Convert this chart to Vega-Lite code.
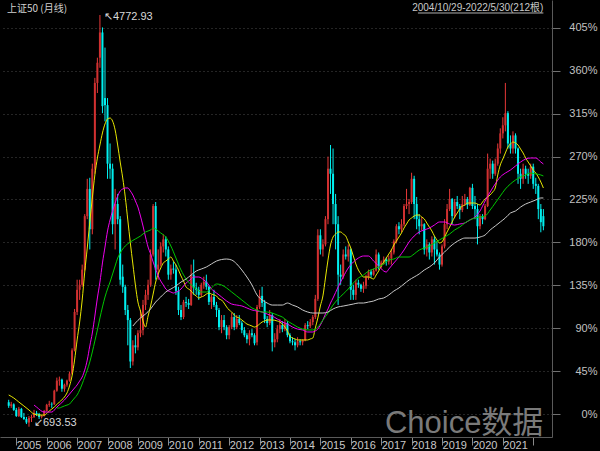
{
"$schema":"https://vega.github.io/schema/vega-lite/v6.json",
"width":552,"height":437,
"autosize":{"type":"none"},
"padding":{"left":0,"top":0,"right":48,"bottom":14},
"background":"#000000",
"config":{"view":{"stroke":null},"font":"Liberation Sans",
 "axisX":{"grid":false,"domainColor":"#5a5a5a","tickColor":"#8a8a8a","tickSize":8,"labelColor":"#c8c8c8","labelFontSize":11,"labelAlign":"left","labelBaseline":"top","labelPadding":-6,"labelDx":2,"labelOverlap":false,"labelFlush":false,"title":null},
 "axisY":{"grid":true,"gridDash":[1,3],"gridColor":"#4a4a4a","domainColor":"#5a5a5a","tickColor":"#707070","tickSize":8,"labelAlign":"right","labelPadding":37,"labelColor":"#c0c0c0","labelFontSize":11,"labelOverlap":false,"labelFlush":false,"title":null}
},
"datasets":{
"k":[
{"m":"2004-10","i":0,"o":935,"h":960,"l":880,"c":900},
{"m":"2004-11","i":1,"o":900,"h":940,"l":880,"c":915},
{"m":"2004-12","i":2,"o":915,"h":925,"l":850,"c":860},
{"m":"2005-01","i":3,"o":860,"h":880,"l":790,"c":800},
{"m":"2005-02","i":4,"o":800,"h":890,"l":790,"c":870},
{"m":"2005-03","i":5,"o":870,"h":880,"l":780,"c":790},
{"m":"2005-04","i":6,"o":790,"h":830,"l":760,"c":770},
{"m":"2005-05","i":7,"o":770,"h":790,"l":720,"c":735},
{"m":"2005-06","i":8,"o":735,"h":800,"l":693.53,"c":780},
{"m":"2005-07","i":9,"o":780,"h":810,"l":740,"c":790},
{"m":"2005-08","i":10,"o":790,"h":860,"l":780,"c":830},
{"m":"2005-09","i":11,"o":830,"h":850,"l":800,"c":820},
{"m":"2005-10","i":12,"o":820,"h":830,"l":770,"c":790},
{"m":"2005-11","i":13,"o":790,"h":810,"l":775,"c":800},
{"m":"2005-12","i":14,"o":800,"h":860,"l":795,"c":850},
{"m":"2006-01","i":15,"o":850,"h":920,"l":845,"c":910},
{"m":"2006-02","i":16,"o":910,"h":950,"l":890,"c":920},
{"m":"2006-03","i":17,"o":920,"h":935,"l":880,"c":915},
{"m":"2006-04","i":18,"o":915,"h":1060,"l":910,"c":1050},
{"m":"2006-05","i":19,"o":1050,"h":1180,"l":1040,"c":1150},
{"m":"2006-06","i":20,"o":1150,"h":1190,"l":1100,"c":1160},
{"m":"2006-07","i":21,"o":1160,"h":1170,"l":1040,"c":1070},
{"m":"2006-08","i":22,"o":1070,"h":1120,"l":1040,"c":1110},
{"m":"2006-09","i":23,"o":1110,"h":1160,"l":1090,"c":1150},
{"m":"2006-10","i":24,"o":1150,"h":1240,"l":1140,"c":1220},
{"m":"2006-11","i":25,"o":1220,"h":1470,"l":1210,"c":1450},
{"m":"2006-12","i":26,"o":1450,"h":1860,"l":1440,"c":1830},
{"m":"2007-01","i":27,"o":1830,"h":2150,"l":1800,"c":2050},
{"m":"2007-02","i":28,"o":2050,"h":2150,"l":1950,"c":2100},
{"m":"2007-03","i":29,"o":2100,"h":2300,"l":2080,"c":2250},
{"m":"2007-04","i":30,"o":2250,"h":2800,"l":2240,"c":2780},
{"m":"2007-05","i":31,"o":2780,"h":3150,"l":2750,"c":3050},
{"m":"2007-06","i":32,"o":3050,"h":3160,"l":2450,"c":2650},
{"m":"2007-07","i":33,"o":2650,"h":3300,"l":2600,"c":3250},
{"m":"2007-08","i":34,"o":3250,"h":4150,"l":3200,"c":4100},
{"m":"2007-09","i":35,"o":4100,"h":4350,"l":4000,"c":4300},
{"m":"2007-10","i":36,"o":4350,"h":4772.93,"l":4250,"c":4600},
{"m":"2007-11","i":37,"o":4600,"h":4650,"l":3800,"c":3870},
{"m":"2007-12","i":38,"o":3950,"h":4450,"l":3720,"c":3880},
{"m":"2008-01","i":39,"o":3880,"h":3950,"l":3150,"c":3300},
{"m":"2008-02","i":40,"o":3300,"h":3500,"l":3150,"c":3250},
{"m":"2008-03","i":41,"o":3250,"h":3300,"l":2600,"c":2700},
{"m":"2008-04","i":42,"o":2700,"h":3050,"l":2450,"c":2900},
{"m":"2008-05","i":43,"o":2900,"h":3000,"l":2700,"c":2750},
{"m":"2008-06","i":44,"o":2750,"h":2780,"l":2100,"c":2150},
{"m":"2008-07","i":45,"o":2180,"h":2300,"l":2020,"c":2080},
{"m":"2008-08","i":46,"o":2080,"h":2100,"l":1800,"c":1850},
{"m":"2008-09","i":47,"o":1850,"h":1900,"l":1500,"c":1750},
{"m":"2008-10","i":48,"o":1750,"h":1770,"l":1275,"c":1340},
{"m":"2008-11","i":49,"o":1340,"h":1550,"l":1300,"c":1500},
{"m":"2008-12","i":50,"o":1500,"h":1600,"l":1420,"c":1480},
{"m":"2009-01","i":51,"o":1480,"h":1650,"l":1450,"c":1620},
{"m":"2009-02","i":52,"o":1620,"h":1850,"l":1580,"c":1650},
{"m":"2009-03","i":53,"o":1650,"h":1950,"l":1600,"c":1900},
{"m":"2009-04","i":54,"o":1900,"h":2050,"l":1850,"c":2000},
{"m":"2009-05","i":55,"o":2000,"h":2150,"l":1950,"c":2100},
{"m":"2009-06","i":56,"o":2100,"h":2450,"l":2080,"c":2400},
{"m":"2009-07","i":57,"o":2400,"h":2900,"l":2380,"c":2880},
{"m":"2009-08","i":58,"o":2880,"h":2920,"l":2150,"c":2250},
{"m":"2009-09","i":59,"o":2250,"h":2450,"l":2150,"c":2300},
{"m":"2009-10","i":60,"o":2300,"h":2520,"l":2280,"c":2480},
{"m":"2009-11","i":61,"o":2480,"h":2600,"l":2420,"c":2550},
{"m":"2009-12","i":62,"o":2550,"h":2580,"l":2380,"c":2450},
{"m":"2010-01","i":63,"o":2450,"h":2480,"l":2150,"c":2200},
{"m":"2010-02","i":64,"o":2200,"h":2300,"l":2150,"c":2260},
{"m":"2010-03","i":65,"o":2260,"h":2330,"l":2210,"c":2250},
{"m":"2010-04","i":66,"o":2250,"h":2300,"l":2000,"c":2040},
{"m":"2010-05","i":67,"o":2040,"h":2080,"l":1800,"c":1850},
{"m":"2010-06","i":68,"o":1850,"h":1900,"l":1750,"c":1780},
{"m":"2010-07","i":69,"o":1780,"h":1950,"l":1760,"c":1930},
{"m":"2010-08","i":70,"o":1930,"h":1980,"l":1880,"c":1920},
{"m":"2010-09","i":71,"o":1920,"h":1960,"l":1860,"c":1900},
{"m":"2010-10","i":72,"o":1900,"h":2300,"l":1890,"c":2200},
{"m":"2010-11","i":73,"o":2200,"h":2350,"l":2000,"c":2070},
{"m":"2010-12","i":74,"o":2070,"h":2120,"l":2000,"c":2050},
{"m":"2011-01","i":75,"o":2050,"h":2080,"l":1950,"c":2000},
{"m":"2011-02","i":76,"o":2000,"h":2120,"l":1980,"c":2100},
{"m":"2011-03","i":77,"o":2100,"h":2180,"l":2060,"c":2130},
{"m":"2011-04","i":78,"o":2130,"h":2200,"l":2050,"c":2080},
{"m":"2011-05","i":79,"o":2080,"h":2090,"l":1900,"c":1930},
{"m":"2011-06","i":80,"o":1930,"h":2000,"l":1860,"c":1980},
{"m":"2011-07","i":81,"o":1980,"h":2050,"l":1880,"c":1900},
{"m":"2011-08","i":82,"o":1900,"h":1930,"l":1780,"c":1850},
{"m":"2011-09","i":83,"o":1850,"h":1870,"l":1650,"c":1680},
{"m":"2011-10","i":84,"o":1680,"h":1800,"l":1620,"c":1750},
{"m":"2011-11","i":85,"o":1750,"h":1800,"l":1650,"c":1680},
{"m":"2011-12","i":86,"o":1680,"h":1700,"l":1560,"c":1600},
{"m":"2012-01","i":87,"o":1600,"h":1700,"l":1560,"c":1680},
{"m":"2012-02","i":88,"o":1680,"h":1820,"l":1660,"c":1780},
{"m":"2012-03","i":89,"o":1780,"h":1820,"l":1650,"c":1680},
{"m":"2012-04","i":90,"o":1680,"h":1800,"l":1660,"c":1760},
{"m":"2012-05","i":91,"o":1760,"h":1800,"l":1700,"c":1720},
{"m":"2012-06","i":92,"o":1720,"h":1740,"l":1620,"c":1650},
{"m":"2012-07","i":93,"o":1650,"h":1680,"l":1580,"c":1600},
{"m":"2012-08","i":94,"o":1600,"h":1620,"l":1520,"c":1560},
{"m":"2012-09","i":95,"o":1560,"h":1650,"l":1500,"c":1620},
{"m":"2012-10","i":96,"o":1620,"h":1660,"l":1580,"c":1600},
{"m":"2012-11","i":97,"o":1600,"h":1620,"l":1500,"c":1520},
{"m":"2012-12","i":98,"o":1530,"h":1900,"l":1500,"c":1880},
{"m":"2013-01","i":99,"o":1880,"h":2050,"l":1860,"c":1990},
{"m":"2013-02","i":100,"o":1990,"h":2080,"l":1880,"c":1920},
{"m":"2013-03","i":101,"o":1920,"h":1950,"l":1720,"c":1760},
{"m":"2013-04","i":102,"o":1760,"h":1790,"l":1680,"c":1720},
{"m":"2013-05","i":103,"o":1720,"h":1850,"l":1700,"c":1800},
{"m":"2013-06","i":104,"o":1800,"h":1820,"l":1440,"c":1530},
{"m":"2013-07","i":105,"o":1530,"h":1620,"l":1480,"c":1560},
{"m":"2013-08","i":106,"o":1560,"h":1700,"l":1530,"c":1660},
{"m":"2013-09","i":107,"o":1660,"h":1760,"l":1620,"c":1700},
{"m":"2013-10","i":108,"o":1700,"h":1740,"l":1630,"c":1660},
{"m":"2013-11","i":109,"o":1660,"h":1760,"l":1640,"c":1720},
{"m":"2013-12","i":110,"o":1720,"h":1740,"l":1580,"c":1600},
{"m":"2014-01","i":111,"o":1600,"h":1620,"l":1520,"c":1540},
{"m":"2014-02","i":112,"o":1540,"h":1580,"l":1500,"c":1530},
{"m":"2014-03","i":113,"o":1530,"h":1560,"l":1450,"c":1500},
{"m":"2014-04","i":114,"o":1500,"h":1580,"l":1480,"c":1540},
{"m":"2014-05","i":115,"o":1540,"h":1560,"l":1500,"c":1530},
{"m":"2014-06","i":116,"o":1530,"h":1560,"l":1500,"c":1550},
{"m":"2014-07","i":117,"o":1550,"h":1720,"l":1540,"c":1700},
{"m":"2014-08","i":118,"o":1700,"h":1740,"l":1660,"c":1690},
{"m":"2014-09","i":119,"o":1690,"h":1760,"l":1670,"c":1730},
{"m":"2014-10","i":120,"o":1730,"h":1800,"l":1700,"c":1780},
{"m":"2014-11","i":121,"o":1780,"h":2000,"l":1760,"c":1960},
{"m":"2014-12","i":122,"o":1960,"h":2650,"l":1940,"c":2590},
{"m":"2015-01","i":123,"o":2590,"h":2650,"l":2400,"c":2450},
{"m":"2015-02","i":124,"o":2450,"h":2550,"l":2380,"c":2500},
{"m":"2015-03","i":125,"o":2500,"h":2780,"l":2480,"c":2750},
{"m":"2015-04","i":126,"o":2750,"h":3370,"l":2700,"c":3250},
{"m":"2015-05","i":127,"o":3250,"h":3485,"l":3000,"c":3200},
{"m":"2015-06","i":128,"o":3200,"h":3450,"l":2700,"c":2900},
{"m":"2015-07","i":129,"o":2900,"h":3000,"l":2450,"c":2700},
{"m":"2015-08","i":130,"o":2700,"h":2780,"l":1900,"c":2200},
{"m":"2015-09","i":131,"o":2200,"h":2300,"l":2100,"c":2180},
{"m":"2015-10","i":132,"o":2180,"h":2450,"l":2160,"c":2400},
{"m":"2015-11","i":133,"o":2400,"h":2480,"l":2350,"c":2380},
{"m":"2015-12","i":134,"o":2380,"h":2500,"l":2330,"c":2450},
{"m":"2016-01","i":135,"o":2450,"h":2460,"l":1950,"c":2050},
{"m":"2016-02","i":136,"o":2050,"h":2100,"l":1950,"c":2000},
{"m":"2016-03","i":137,"o":2000,"h":2150,"l":1950,"c":2120},
{"m":"2016-04","i":138,"o":2120,"h":2150,"l":2070,"c":2100},
{"m":"2016-05","i":139,"o":2100,"h":2110,"l":2030,"c":2060},
{"m":"2016-06","i":140,"o":2060,"h":2130,"l":2020,"c":2090},
{"m":"2016-07","i":141,"o":2090,"h":2200,"l":2060,"c":2170},
{"m":"2016-08","i":142,"o":2170,"h":2250,"l":2150,"c":2230},
{"m":"2016-09","i":143,"o":2230,"h":2250,"l":2170,"c":2200},
{"m":"2016-10","i":144,"o":2200,"h":2260,"l":2190,"c":2240},
{"m":"2016-11","i":145,"o":2240,"h":2450,"l":2230,"c":2400},
{"m":"2016-12","i":146,"o":2400,"h":2420,"l":2250,"c":2280},
{"m":"2017-01","i":147,"o":2280,"h":2340,"l":2260,"c":2320},
{"m":"2017-02","i":148,"o":2320,"h":2380,"l":2300,"c":2350},
{"m":"2017-03","i":149,"o":2350,"h":2370,"l":2290,"c":2330},
{"m":"2017-04","i":150,"o":2330,"h":2390,"l":2300,"c":2360},
{"m":"2017-05","i":151,"o":2360,"h":2450,"l":2300,"c":2420},
{"m":"2017-06","i":152,"o":2420,"h":2550,"l":2400,"c":2530},
{"m":"2017-07","i":153,"o":2530,"h":2700,"l":2510,"c":2680},
{"m":"2017-08","i":154,"o":2680,"h":2720,"l":2600,"c":2650},
{"m":"2017-09","i":155,"o":2650,"h":2750,"l":2620,"c":2700},
{"m":"2017-10","i":156,"o":2700,"h":2900,"l":2680,"c":2880},
{"m":"2017-11","i":157,"o":2880,"h":3050,"l":2850,"c":2900},
{"m":"2017-12","i":158,"o":2900,"h":2950,"l":2800,"c":2920},
{"m":"2018-01","i":159,"o":2920,"h":3210,"l":2900,"c":3150},
{"m":"2018-02","i":160,"o":3150,"h":3180,"l":2750,"c":2900},
{"m":"2018-03","i":161,"o":2900,"h":2970,"l":2650,"c":2750},
{"m":"2018-04","i":162,"o":2750,"h":2800,"l":2600,"c":2680},
{"m":"2018-05","i":163,"o":2680,"h":2770,"l":2640,"c":2700},
{"m":"2018-06","i":164,"o":2700,"h":2710,"l":2400,"c":2450},
{"m":"2018-07","i":165,"o":2450,"h":2550,"l":2380,"c":2500},
{"m":"2018-08","i":166,"o":2500,"h":2520,"l":2350,"c":2420},
{"m":"2018-09","i":167,"o":2420,"h":2580,"l":2380,"c":2550},
{"m":"2018-10","i":168,"o":2550,"h":2580,"l":2300,"c":2450},
{"m":"2018-11","i":169,"o":2450,"h":2530,"l":2380,"c":2400},
{"m":"2018-12","i":170,"o":2400,"h":2420,"l":2250,"c":2300},
{"m":"2019-01","i":171,"o":2300,"h":2500,"l":2280,"c":2480},
{"m":"2019-02","i":172,"o":2480,"h":2750,"l":2460,"c":2700},
{"m":"2019-03","i":173,"o":2700,"h":2900,"l":2650,"c":2850},
{"m":"2019-04","i":174,"o":2850,"h":3050,"l":2830,"c":2950},
{"m":"2019-05","i":175,"o":2950,"h":2960,"l":2700,"c":2780},
{"m":"2019-06","i":176,"o":2780,"h":2950,"l":2760,"c":2920},
{"m":"2019-07","i":177,"o":2920,"h":2980,"l":2850,"c":2880},
{"m":"2019-08","i":178,"o":2880,"h":2900,"l":2750,"c":2840},
{"m":"2019-09","i":179,"o":2840,"h":2980,"l":2820,"c":2900},
{"m":"2019-10","i":180,"o":2900,"h":3000,"l":2880,"c":2950},
{"m":"2019-11","i":181,"o":2950,"h":2970,"l":2850,"c":2890},
{"m":"2019-12","i":182,"o":2890,"h":3070,"l":2880,"c":3060},
{"m":"2020-01","i":183,"o":3060,"h":3100,"l":2850,"c":2880},
{"m":"2020-02","i":184,"o":2880,"h":2980,"l":2750,"c":2850},
{"m":"2020-03","i":185,"o":2850,"h":2900,"l":2500,"c":2680},
{"m":"2020-04","i":186,"o":2680,"h":2800,"l":2650,"c":2780},
{"m":"2020-05","i":187,"o":2780,"h":2800,"l":2700,"c":2750},
{"m":"2020-06","i":188,"o":2750,"h":2900,"l":2740,"c":2880},
{"m":"2020-07","i":189,"o":2880,"h":3400,"l":2870,"c":3250},
{"m":"2020-08","i":190,"o":3250,"h":3350,"l":3150,"c":3300},
{"m":"2020-09","i":191,"o":3300,"h":3330,"l":3150,"c":3200},
{"m":"2020-10","i":192,"o":3200,"h":3350,"l":3180,"c":3300},
{"m":"2020-11","i":193,"o":3300,"h":3500,"l":3280,"c":3450},
{"m":"2020-12","i":194,"o":3450,"h":3650,"l":3400,"c":3600},
{"m":"2021-01","i":195,"o":3600,"h":3760,"l":3550,"c":3680},
{"m":"2021-02","i":196,"o":3680,"h":4100,"l":3620,"c":3800},
{"m":"2021-03","i":197,"o":3800,"h":3820,"l":3450,"c":3500},
{"m":"2021-04","i":198,"o":3500,"h":3580,"l":3400,"c":3450},
{"m":"2021-05","i":199,"o":3450,"h":3620,"l":3400,"c":3580},
{"m":"2021-06","i":200,"o":3580,"h":3600,"l":3400,"c":3450},
{"m":"2021-07","i":201,"o":3450,"h":3460,"l":3100,"c":3200},
{"m":"2021-08","i":202,"o":3200,"h":3250,"l":3050,"c":3150},
{"m":"2021-09","i":203,"o":3150,"h":3300,"l":3100,"c":3250},
{"m":"2021-10","i":204,"o":3250,"h":3280,"l":3150,"c":3200},
{"m":"2021-11","i":205,"o":3200,"h":3250,"l":3100,"c":3180},
{"m":"2021-12","i":206,"o":3180,"h":3300,"l":3150,"c":3270},
{"m":"2022-01","i":207,"o":3270,"h":3300,"l":3050,"c":3100},
{"m":"2022-02","i":208,"o":3100,"h":3160,"l":3000,"c":3080},
{"m":"2022-03","i":209,"o":3080,"h":3100,"l":2750,"c":2850},
{"m":"2022-04","i":210,"o":2850,"h":2900,"l":2620,"c":2720},
{"m":"2022-05","i":211,"o":2780,"h":2850,"l":2640,"c":2680}
],
"ma":[
{"s":"y","i":0,"v":1008},{"s":"y","i":2,"v":978},{"s":"y","i":4,"v":938},{"s":"y","i":6,"v":899},{"s":"y","i":8,"v":859},{"s":"y","i":10,"v":819},{"s":"y","i":12,"v":809},{"s":"y","i":14,"v":809},{"s":"y","i":16,"v":849},{"s":"y","i":18,"v":889},{"s":"y","i":20,"v":938},{"s":"y","i":22,"v":988},{"s":"y","i":23,"v":1028},{"s":"y","i":24,"v":1097},{"s":"y","i":25,"v":1196},{"s":"y","i":26,"v":1354},{"s":"y","i":27,"v":1553},{"s":"y","i":28,"v":1731},{"s":"y","i":29,"v":1949},{"s":"y","i":30,"v":2226},{"s":"y","i":31,"v":2464},{"s":"y","i":32,"v":2722},{"s":"y","i":33,"v":2960},{"s":"y","i":34,"v":3188},{"s":"y","i":35,"v":3356},{"s":"y","i":36,"v":3485},{"s":"y","i":37,"v":3604},{"s":"y","i":38,"v":3693},{"s":"y","i":39,"v":3743},{"s":"y","i":40,"v":3752},{"s":"y","i":41,"v":3722},{"s":"y","i":42,"v":3634},{"s":"y","i":43,"v":3485},{"s":"y","i":44,"v":3316},{"s":"y","i":45,"v":3158},{"s":"y","i":46,"v":2970},{"s":"y","i":47,"v":2742},{"s":"y","i":48,"v":2514},{"s":"y","i":49,"v":2306},{"s":"y","i":50,"v":2097},{"s":"y","i":51,"v":1929},{"s":"y","i":52,"v":1840},{"s":"y","i":53,"v":1741},{"s":"y","i":54,"v":1681},{"s":"y","i":55,"v":1790},{"s":"y","i":56,"v":1889},{"s":"y","i":57,"v":2008},{"s":"y","i":58,"v":2127},{"s":"y","i":59,"v":2207},{"s":"y","i":60,"v":2266},{"s":"y","i":61,"v":2316},{"s":"y","i":62,"v":2335},{"s":"y","i":63,"v":2355},{"s":"y","i":64,"v":2375},{"s":"y","i":65,"v":2335},{"s":"y","i":66,"v":2296},{"s":"y","i":67,"v":2246},{"s":"y","i":68,"v":2187},{"s":"y","i":69,"v":2137},{"s":"y","i":70,"v":2078},{"s":"y","i":71,"v":2058},{"s":"y","i":72,"v":2038},{"s":"y","i":73,"v":2008},{"s":"y","i":74,"v":1989},{"s":"y","i":75,"v":1969},{"s":"y","i":76,"v":1979},{"s":"y","i":77,"v":1989},{"s":"y","i":78,"v":2008},{"s":"y","i":79,"v":2018},{"s":"y","i":80,"v":2008},{"s":"y","i":81,"v":1999},{"s":"y","i":82,"v":1989},{"s":"y","i":83,"v":1959},{"s":"y","i":84,"v":1949},{"s":"y","i":85,"v":1919},{"s":"y","i":86,"v":1880},{"s":"y","i":87,"v":1850},{"s":"y","i":88,"v":1830},{"s":"y","i":89,"v":1800},{"s":"y","i":90,"v":1780},{"s":"y","i":91,"v":1770},{"s":"y","i":92,"v":1751},{"s":"y","i":93,"v":1731},{"s":"y","i":94,"v":1711},{"s":"y","i":95,"v":1701},{"s":"y","i":96,"v":1691},{"s":"y","i":97,"v":1681},{"s":"y","i":98,"v":1691},{"s":"y","i":99,"v":1711},{"s":"y","i":100,"v":1731},{"s":"y","i":101,"v":1741},{"s":"y","i":102,"v":1751},{"s":"y","i":104,"v":1751},{"s":"y","i":106,"v":1741},{"s":"y","i":107,"v":1731},{"s":"y","i":108,"v":1711},{"s":"y","i":109,"v":1681},{"s":"y","i":110,"v":1642},{"s":"y","i":111,"v":1592},{"s":"y","i":112,"v":1572},{"s":"y","i":113,"v":1563},{"s":"y","i":114,"v":1553},{"s":"y","i":116,"v":1553},{"s":"y","i":118,"v":1553},{"s":"y","i":119,"v":1563},{"s":"y","i":120,"v":1572},{"s":"y","i":121,"v":1672},{"s":"y","i":122,"v":1771},{"s":"y","i":123,"v":1890},{"s":"y","i":124,"v":1989},{"s":"y","i":125,"v":2167},{"s":"y","i":126,"v":2345},{"s":"y","i":127,"v":2494},{"s":"y","i":128,"v":2573},{"s":"y","i":129,"v":2603},{"s":"y","i":130,"v":2623},{"s":"y","i":131,"v":2623},{"s":"y","i":132,"v":2603},{"s":"y","i":133,"v":2583},{"s":"y","i":134,"v":2524},{"s":"y","i":135,"v":2464},{"s":"y","i":136,"v":2385},{"s":"y","i":137,"v":2306},{"s":"y","i":138,"v":2246},{"s":"y","i":139,"v":2207},{"s":"y","i":140,"v":2177},{"s":"y","i":142,"v":2177},{"s":"y","i":143,"v":2167},{"s":"y","i":144,"v":2157},{"s":"y","i":145,"v":2197},{"s":"y","i":146,"v":2236},{"s":"y","i":147,"v":2286},{"s":"y","i":148,"v":2325},{"s":"y","i":149,"v":2365},{"s":"y","i":150,"v":2405},{"s":"y","i":151,"v":2444},{"s":"y","i":152,"v":2494},{"s":"y","i":153,"v":2534},{"s":"y","i":154,"v":2573},{"s":"y","i":155,"v":2613},{"s":"y","i":156,"v":2662},{"s":"y","i":157,"v":2702},{"s":"y","i":158,"v":2742},{"s":"y","i":159,"v":2762},{"s":"y","i":160,"v":2781},{"s":"y","i":161,"v":2791},{"s":"y","i":162,"v":2791},{"s":"y","i":163,"v":2771},{"s":"y","i":164,"v":2752},{"s":"y","i":165,"v":2712},{"s":"y","i":166,"v":2672},{"s":"y","i":167,"v":2633},{"s":"y","i":168,"v":2583},{"s":"y","i":169,"v":2544},{"s":"y","i":170,"v":2514},{"s":"y","i":171,"v":2524},{"s":"y","i":172,"v":2573},{"s":"y","i":173,"v":2623},{"s":"y","i":174,"v":2672},{"s":"y","i":175,"v":2722},{"s":"y","i":176,"v":2771},{"s":"y","i":177,"v":2811},{"s":"y","i":178,"v":2851},{"s":"y","i":179,"v":2880},{"s":"y","i":180,"v":2890},{"s":"y","i":181,"v":2910},{"s":"y","i":183,"v":2910},{"s":"y","i":184,"v":2910},{"s":"y","i":185,"v":2900},{"s":"y","i":186,"v":2890},{"s":"y","i":187,"v":2920},{"s":"y","i":188,"v":2950},{"s":"y","i":189,"v":2970},{"s":"y","i":190,"v":2990},{"s":"y","i":191,"v":3019},{"s":"y","i":192,"v":3059},{"s":"y","i":193,"v":3188},{"s":"y","i":194,"v":3287},{"s":"y","i":195,"v":3346},{"s":"y","i":196,"v":3406},{"s":"y","i":197,"v":3465},{"s":"y","i":198,"v":3495},{"s":"y","i":199,"v":3515},{"s":"y","i":200,"v":3505},{"s":"y","i":201,"v":3485},{"s":"y","i":202,"v":3445},{"s":"y","i":203,"v":3406},{"s":"y","i":204,"v":3356},{"s":"y","i":205,"v":3316},{"s":"y","i":206,"v":3277},{"s":"y","i":207,"v":3237},{"s":"y","i":208,"v":3207},{"s":"y","i":209,"v":3168},{"s":"y","i":210,"v":3118},{"s":"y","i":211,"v":3059},
{"s":"m","i":10,"v":908},{"s":"m","i":11,"v":888},{"s":"m","i":14,"v":839},{"s":"m","i":17,"v":839},{"s":"m","i":19,"v":888},{"s":"m","i":22,"v":958},{"s":"m","i":24,"v":1017},{"s":"m","i":25,"v":1047},{"s":"m","i":26,"v":1077},{"s":"m","i":27,"v":1107},{"s":"m","i":28,"v":1146},{"s":"m","i":29,"v":1186},{"s":"m","i":30,"v":1255},{"s":"m","i":31,"v":1354},{"s":"m","i":32,"v":1493},{"s":"m","i":33,"v":1622},{"s":"m","i":34,"v":1790},{"s":"m","i":35,"v":1969},{"s":"m","i":36,"v":2127},{"s":"m","i":37,"v":2316},{"s":"m","i":38,"v":2474},{"s":"m","i":39,"v":2633},{"s":"m","i":40,"v":2742},{"s":"m","i":41,"v":2831},{"s":"m","i":42,"v":2910},{"s":"m","i":43,"v":2980},{"s":"m","i":44,"v":3029},{"s":"m","i":45,"v":3049},{"s":"m","i":46,"v":3059},{"s":"m","i":47,"v":3059},{"s":"m","i":48,"v":3029},{"s":"m","i":49,"v":2989},{"s":"m","i":50,"v":2930},{"s":"m","i":51,"v":2870},{"s":"m","i":52,"v":2781},{"s":"m","i":53,"v":2682},{"s":"m","i":54,"v":2573},{"s":"m","i":55,"v":2474},{"s":"m","i":56,"v":2405},{"s":"m","i":57,"v":2326},{"s":"m","i":58,"v":2256},{"s":"m","i":59,"v":2187},{"s":"m","i":60,"v":2137},{"s":"m","i":61,"v":2098},{"s":"m","i":62,"v":2058},{"s":"m","i":63,"v":2038},{"s":"m","i":64,"v":2028},{"s":"m","i":65,"v":2018},{"s":"m","i":66,"v":2028},{"s":"m","i":67,"v":2038},{"s":"m","i":68,"v":2058},{"s":"m","i":69,"v":2088},{"s":"m","i":70,"v":2117},{"s":"m","i":71,"v":2137},{"s":"m","i":72,"v":2157},{"s":"m","i":73,"v":2177},{"s":"m","i":75,"v":2177},{"s":"m","i":76,"v":2167},{"s":"m","i":77,"v":2147},{"s":"m","i":78,"v":2127},{"s":"m","i":79,"v":2098},{"s":"m","i":80,"v":2058},{"s":"m","i":81,"v":2038},{"s":"m","i":82,"v":2018},{"s":"m","i":83,"v":1999},{"s":"m","i":84,"v":1979},{"s":"m","i":86,"v":1939},{"s":"m","i":88,"v":1909},{"s":"m","i":90,"v":1899},{"s":"m","i":92,"v":1890},{"s":"m","i":94,"v":1870},{"s":"m","i":96,"v":1850},{"s":"m","i":98,"v":1840},{"s":"m","i":100,"v":1830},{"s":"m","i":102,"v":1810},{"s":"m","i":104,"v":1790},{"s":"m","i":106,"v":1761},{"s":"m","i":108,"v":1731},{"s":"m","i":110,"v":1711},{"s":"m","i":112,"v":1681},{"s":"m","i":114,"v":1661},{"s":"m","i":116,"v":1652},{"s":"m","i":118,"v":1632},{"s":"m","i":120,"v":1632},{"s":"m","i":121,"v":1642},{"s":"m","i":122,"v":1661},{"s":"m","i":123,"v":1701},{"s":"m","i":124,"v":1751},{"s":"m","i":125,"v":1810},{"s":"m","i":126,"v":1860},{"s":"m","i":127,"v":1919},{"s":"m","i":128,"v":1969},{"s":"m","i":130,"v":2078},{"s":"m","i":132,"v":2177},{"s":"m","i":134,"v":2266},{"s":"m","i":136,"v":2325},{"s":"m","i":138,"v":2365},{"s":"m","i":140,"v":2385},{"s":"m","i":142,"v":2385},{"s":"m","i":144,"v":2335},{"s":"m","i":146,"v":2286},{"s":"m","i":148,"v":2236},{"s":"m","i":149,"v":2226},{"s":"m","i":150,"v":2256},{"s":"m","i":152,"v":2316},{"s":"m","i":154,"v":2375},{"s":"m","i":156,"v":2444},{"s":"m","i":158,"v":2524},{"s":"m","i":160,"v":2583},{"s":"m","i":162,"v":2623},{"s":"m","i":164,"v":2643},{"s":"m","i":166,"v":2662},{"s":"m","i":168,"v":2692},{"s":"m","i":170,"v":2722},{"s":"m","i":172,"v":2722},{"s":"m","i":174,"v":2702},{"s":"m","i":176,"v":2692},{"s":"m","i":178,"v":2702},{"s":"m","i":180,"v":2712},{"s":"m","i":182,"v":2742},{"s":"m","i":184,"v":2771},{"s":"m","i":186,"v":2831},{"s":"m","i":188,"v":2930},{"s":"m","i":190,"v":3019},{"s":"m","i":192,"v":3099},{"s":"m","i":194,"v":3168},{"s":"m","i":196,"v":3207},{"s":"m","i":198,"v":3237},{"s":"m","i":200,"v":3277},{"s":"m","i":202,"v":3316},{"s":"m","i":204,"v":3346},{"s":"m","i":206,"v":3356},{"s":"m","i":208,"v":3356},{"s":"m","i":210,"v":3316},{"s":"m","i":211,"v":3297},
{"s":"g","i":19,"v":879},{"s":"g","i":20,"v":879},{"s":"g","i":21,"v":889},{"s":"g","i":22,"v":899},{"s":"g","i":23,"v":908},{"s":"g","i":24,"v":918},{"s":"g","i":25,"v":948},{"s":"g","i":26,"v":978},{"s":"g","i":27,"v":1008},{"s":"g","i":28,"v":1057},{"s":"g","i":29,"v":1117},{"s":"g","i":30,"v":1186},{"s":"g","i":31,"v":1255},{"s":"g","i":32,"v":1335},{"s":"g","i":33,"v":1434},{"s":"g","i":34,"v":1543},{"s":"g","i":35,"v":1652},{"s":"g","i":36,"v":1771},{"s":"g","i":37,"v":1880},{"s":"g","i":38,"v":1979},{"s":"g","i":39,"v":2058},{"s":"g","i":40,"v":2127},{"s":"g","i":41,"v":2207},{"s":"g","i":42,"v":2286},{"s":"g","i":43,"v":2365},{"s":"g","i":44,"v":2415},{"s":"g","i":45,"v":2454},{"s":"g","i":46,"v":2484},{"s":"g","i":48,"v":2524},{"s":"g","i":50,"v":2554},{"s":"g","i":52,"v":2583},{"s":"g","i":54,"v":2623},{"s":"g","i":56,"v":2643},{"s":"g","i":57,"v":2662},{"s":"g","i":58,"v":2653},{"s":"g","i":59,"v":2633},{"s":"g","i":60,"v":2613},{"s":"g","i":62,"v":2573},{"s":"g","i":64,"v":2484},{"s":"g","i":66,"v":2365},{"s":"g","i":68,"v":2246},{"s":"g","i":70,"v":2157},{"s":"g","i":72,"v":2098},{"s":"g","i":74,"v":2058},{"s":"g","i":76,"v":2028},{"s":"g","i":78,"v":2028},{"s":"g","i":80,"v":2068},{"s":"g","i":82,"v":2108},{"s":"g","i":84,"v":2098},{"s":"g","i":86,"v":2068},{"s":"g","i":88,"v":2028},{"s":"g","i":90,"v":1989},{"s":"g","i":92,"v":1949},{"s":"g","i":94,"v":1909},{"s":"g","i":96,"v":1870},{"s":"g","i":98,"v":1850},{"s":"g","i":100,"v":1830},{"s":"g","i":102,"v":1830},{"s":"g","i":104,"v":1820},{"s":"g","i":106,"v":1800},{"s":"g","i":108,"v":1780},{"s":"g","i":110,"v":1741},{"s":"g","i":112,"v":1711},{"s":"g","i":114,"v":1681},{"s":"g","i":116,"v":1661},{"s":"g","i":118,"v":1652},{"s":"g","i":120,"v":1652},{"s":"g","i":122,"v":1681},{"s":"g","i":124,"v":1751},{"s":"g","i":126,"v":1820},{"s":"g","i":128,"v":1899},{"s":"g","i":130,"v":1959},{"s":"g","i":132,"v":2008},{"s":"g","i":134,"v":2058},{"s":"g","i":136,"v":2117},{"s":"g","i":138,"v":2167},{"s":"g","i":140,"v":2197},{"s":"g","i":142,"v":2236},{"s":"g","i":144,"v":2256},{"s":"g","i":146,"v":2276},{"s":"g","i":148,"v":2306},{"s":"g","i":150,"v":2345},{"s":"g","i":152,"v":2355},{"s":"g","i":154,"v":2375},{"s":"g","i":156,"v":2375},{"s":"g","i":158,"v":2375},{"s":"g","i":160,"v":2405},{"s":"g","i":162,"v":2444},{"s":"g","i":164,"v":2464},{"s":"g","i":166,"v":2484},{"s":"g","i":168,"v":2514},{"s":"g","i":170,"v":2544},{"s":"g","i":172,"v":2573},{"s":"g","i":174,"v":2603},{"s":"g","i":176,"v":2643},{"s":"g","i":178,"v":2672},{"s":"g","i":180,"v":2712},{"s":"g","i":182,"v":2742},{"s":"g","i":184,"v":2762},{"s":"g","i":186,"v":2771},{"s":"g","i":188,"v":2781},{"s":"g","i":190,"v":2841},{"s":"g","i":192,"v":2910},{"s":"g","i":194,"v":2980},{"s":"g","i":196,"v":3049},{"s":"g","i":198,"v":3099},{"s":"g","i":200,"v":3138},{"s":"g","i":202,"v":3168},{"s":"g","i":204,"v":3188},{"s":"g","i":206,"v":3207},{"s":"g","i":208,"v":3198},{"s":"g","i":210,"v":3188},{"s":"g","i":211,"v":3178},
{"s":"w","i":49,"v":1691},{"s":"w","i":50,"v":1721},{"s":"w","i":52,"v":1771},{"s":"w","i":54,"v":1810},{"s":"w","i":56,"v":1860},{"s":"w","i":58,"v":1929},{"s":"w","i":60,"v":1979},{"s":"w","i":62,"v":2028},{"s":"w","i":64,"v":2058},{"s":"w","i":66,"v":2088},{"s":"w","i":68,"v":2127},{"s":"w","i":70,"v":2157},{"s":"w","i":72,"v":2197},{"s":"w","i":74,"v":2236},{"s":"w","i":76,"v":2256},{"s":"w","i":78,"v":2276},{"s":"w","i":80,"v":2306},{"s":"w","i":82,"v":2335},{"s":"w","i":84,"v":2350},{"s":"w","i":86,"v":2355},{"s":"w","i":88,"v":2345},{"s":"w","i":90,"v":2306},{"s":"w","i":92,"v":2246},{"s":"w","i":94,"v":2177},{"s":"w","i":96,"v":2098},{"s":"w","i":98,"v":1999},{"s":"w","i":100,"v":1949},{"s":"w","i":102,"v":1919},{"s":"w","i":104,"v":1899},{"s":"w","i":106,"v":1899},{"s":"w","i":108,"v":1899},{"s":"w","i":110,"v":1919},{"s":"w","i":112,"v":1899},{"s":"w","i":114,"v":1880},{"s":"w","i":116,"v":1850},{"s":"w","i":118,"v":1830},{"s":"w","i":120,"v":1820},{"s":"w","i":122,"v":1820},{"s":"w","i":124,"v":1820},{"s":"w","i":126,"v":1830},{"s":"w","i":128,"v":1860},{"s":"w","i":130,"v":1880},{"s":"w","i":132,"v":1889},{"s":"w","i":134,"v":1899},{"s":"w","i":136,"v":1909},{"s":"w","i":138,"v":1919},{"s":"w","i":140,"v":1919},{"s":"w","i":142,"v":1929},{"s":"w","i":144,"v":1939},{"s":"w","i":146,"v":1959},{"s":"w","i":148,"v":1969},{"s":"w","i":150,"v":1999},{"s":"w","i":152,"v":2038},{"s":"w","i":154,"v":2068},{"s":"w","i":156,"v":2108},{"s":"w","i":158,"v":2147},{"s":"w","i":160,"v":2177},{"s":"w","i":162,"v":2207},{"s":"w","i":164,"v":2246},{"s":"w","i":166,"v":2276},{"s":"w","i":168,"v":2316},{"s":"w","i":170,"v":2375},{"s":"w","i":172,"v":2424},{"s":"w","i":174,"v":2474},{"s":"w","i":176,"v":2514},{"s":"w","i":178,"v":2544},{"s":"w","i":180,"v":2563},{"s":"w","i":182,"v":2563},{"s":"w","i":184,"v":2563},{"s":"w","i":186,"v":2573},{"s":"w","i":188,"v":2593},{"s":"w","i":190,"v":2643},{"s":"w","i":192,"v":2682},{"s":"w","i":194,"v":2722},{"s":"w","i":196,"v":2762},{"s":"w","i":198,"v":2811},{"s":"w","i":200,"v":2831},{"s":"w","i":202,"v":2870},{"s":"w","i":204,"v":2900},{"s":"w","i":206,"v":2920},{"s":"w","i":208,"v":2940},{"s":"w","i":210,"v":2960},{"s":"w","i":211,"v":2960}
],
"one":[{"a":1}]
},
"encoding":{
 "x":{"type":"quantitative","scale":{"domain":[-1.46,212.43],"nice":false,"zero":false},
  "axis":{"orient":"bottom","values":[3,15,27,39,51,63,75,87,99,111,123,135,147,159,171,183,195,207],"labelExpr":"datum.value > 200 ? '' : '' + (2005 + (datum.value - 3) / 12)","zindex":1}},
 "y":{"type":"quantitative","scale":{"domain":[591.5,4921.7],"nice":false,"zero":false},
  "axis":{"orient":"right","values":[819.4,1244.5,1669.6,2094.7,2519.8,2944.9,3370,3795.1,4220.2,4645.3],"labelExpr":"format((datum.value - 819.4) / 425.1 * 45, '.0f') + '%'"}}
},
"layer":[
{"data":{"name":"k"},"mark":{"type":"rule","strokeWidth":1},
 "encoding":{
  "x":{"field":"i","type":"quantitative"},
  "y":{"field":"l","type":"quantitative"},
  "y2":{"field":"h"},
  "color":{"condition":{"test":"datum.c >= datum.o","value":"#e83838"},"value":"#00f0f0"}
 }},
{"data":{"name":"k"},"mark":{"type":"bar","size":2},
 "encoding":{
  "x":{"field":"i","type":"quantitative"},
  "y":{"field":"o","type":"quantitative"},
  "y2":{"field":"c"},
  "color":{"condition":{"test":"datum.c >= datum.o","value":"#d03030"},"value":"#00f0f0"}
 }},
{"data":{"name":"ma"},"mark":{"type":"line","strokeWidth":1,"interpolate":"monotone"},
 "encoding":{
  "x":{"field":"i","type":"quantitative"},
  "y":{"field":"v","type":"quantitative"},
  "color":{"field":"s","type":"nominal","scale":{"domain":["y","m","g","w"],"range":["#e8e800","#f000f0","#00c800","#c8c8c8"]},"legend":null}
 }},
{"data":{"name":"one"},"mark":{"type":"text","text":"↖4772.93","align":"left","baseline":"middle","dx":4,"dy":2,"fontSize":11,"color":"#d8d8d8"},
 "encoding":{"x":{"datum":36,"type":"quantitative"},"y":{"datum":4772.93,"type":"quantitative"}}},
{"data":{"name":"one"},"mark":{"type":"text","text":"↙693.53","align":"left","baseline":"middle","dx":5,"dy":-4,"fontSize":11,"color":"#d8d8d8"},
 "encoding":{"x":{"datum":8,"type":"quantitative"},"y":{"datum":693.53,"type":"quantitative"}}},
{"data":{"name":"one"},"mark":{"type":"text","text":"上证50 (月线)","align":"left","baseline":"alphabetic","dx":2,"fontSize":10,"color":"#d0d0d0","font":"Noto Sans CJK SC"},
 "encoding":{"x":{"datum":-1.46,"type":"quantitative"},"y":{"datum":4802,"type":"quantitative"}}},
{"data":{"name":"one"},"mark":{"type":"text","text":"2004/10/29-2022/5/30(212根)","align":"right","baseline":"alphabetic","fontSize":10,"color":"#c8c8c8","font":"Liberation Sans, Noto Sans CJK SC"},
 "encoding":{"x":{"datum":211,"type":"quantitative"},"y":{"datum":4808,"type":"quantitative"}}},
{"data":{"name":"one"},"mark":{"type":"rule","color":"#b0b0b0","strokeWidth":1},
 "encoding":{"x":{"datum":161.5,"type":"quantitative"},"x2":{"datum":211},"y":{"datum":4793,"type":"quantitative"}}},
{"data":{"name":"one"},"mark":{"type":"text","text":"Choice数据","align":"right","baseline":"alphabetic","fontSize":31,"color":"#7a7a7a","font":"Liberation Sans, Noto Sans CJK SC"},
 "encoding":{"x":{"datum":211,"type":"quantitative"},"y":{"datum":631,"type":"quantitative"}}}
]
}
